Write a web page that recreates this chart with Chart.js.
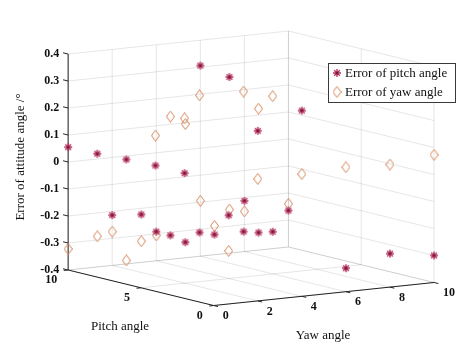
<!DOCTYPE html>
<html lang="en">
<head>
<meta charset="UTF-8">
<title>Error of attitude angle</title>
<script src="https://cdn.jsdelivr.net/npm/chart.js"></script>
<style>
  body { margin: 0; background: #ffffff; }
  #chart { display: block; }
</style>
</head>
<body>
<canvas id="chart" width="474" height="349"></canvas>
<script>
// test points: pitch angle and yaw angle of each test
const pitchAngle = [10, 8, 10, 6, 8, 4, 10, 6, 2, 8, 4, 10, 6, 2, 8, 4, 10, 0, 6, 2, 10, 0, 0, 0, 0];
const yawAngle   = [0, 0, 2, 0, 2, 0, 4, 2, 0, 4, 2, 6, 4, 2, 6, 4, 8, 2, 6, 4, 10, 4, 6, 8, 10];

// measured errors (deg)
const pitchError = [0.055, 0.057, -0.214, 0.062, -0.185, 0.066, -0.292, -0.236, 0.064, -0.305, -0.199, 0.306, -0.250,
                    -0.109, 0.290, -0.213, -0.212, 0.230, -0.260, -0.187, -0.265, 0.288, -0.313, -0.276, -0.300];
const yawError   = [-0.322, -0.249, -0.275, -0.312, -0.284, 0.177, -0.306, 0.204, 0.267, 0.133, 0.309, -0.195, -0.218,
                    -0.241, -0.201, 0.306, -0.251, 0.052, 0.199, 0.315, -0.240, 0.053, 0.061, 0.054, 0.073];

// axis ticks
const pitchTicks = [0, 5, 10];
const yawTicks = [0, 2, 4, 6, 8, 10];
const errorTicks = [-0.4, -0.3, -0.2, -0.1, 0, 0.1, 0.2, 0.3, 0.4];
const errorTickLabels = ['-0.4', '-0.3', '-0.2', '-0.1', '0', '0.1', '0.2', '0.3', '0.4'];
const seriesNames = ['Error of pitch angle', 'Error of yaw angle'];

const pitchMin = 0, pitchMax = 10, yawMin = 0, yawMax = 10, errorMin = -0.4, errorMax = 0.4;

// orthographic view of the box (same camera as the original figure)
const view = {
    originX: 213, originY: 311,   // pitch 0, yaw 0, error -0.4
    pitchStep: [-15, -3.7],
    yawStep: [22.7, -2.4],
    errorStep: -281.25
};

function project(p, w, e) {
    return {
        x: view.originX + p * view.pitchStep[0] + w * view.yawStep[0],
        y: view.originY + p * view.pitchStep[1] + w * view.yawStep[1] + (e - errorMin) * view.errorStep
    };
}

const gridColor = 'rgba(0, 0, 0, 0.1)';
const axisColor = '#262626';
const starColor = '#b8365f';
const diamondColor = '#d4875a';
const serif = "'Liberation Serif', 'Times New Roman', serif";

// marker images
function makeStar(size, color) {
    const c = document.createElement('canvas');
    c.width = size; c.height = size;
    const g = c.getContext('2d');
    const m = size / 2, r = size / 2 - 1;
    g.strokeStyle = color;
    g.lineWidth = 1.4;
    g.beginPath();
    for (let k = 0; k < 4; k++) {
        const a = k * Math.PI / 4;
        g.moveTo(m - r * Math.cos(a), m - r * Math.sin(a));
        g.lineTo(m + r * Math.cos(a), m + r * Math.sin(a));
    }
    g.stroke();
    g.fillStyle = '#6e1d3a';
    g.beginPath();
    g.arc(m, m, 1.3, 0, Math.PI * 2);
    g.fill();
    return c;
}

function makeDiamond(w, h, color) {
    const c = document.createElement('canvas');
    c.width = w; c.height = h;
    const g = c.getContext('2d');
    g.strokeStyle = color;
    g.lineWidth = 1;
    g.beginPath();
    g.moveTo(w / 2, 0.5);
    g.lineTo(w - 0.5, h / 2);
    g.lineTo(w / 2, h - 0.5);
    g.lineTo(0.5, h / 2);
    g.closePath();
    g.stroke();
    return c;
}

const starImg = makeStar(10, starColor);
const diamondImg = makeDiamond(9, 12, diamondColor);

function segment(a, b, color) {
    return {
        data: [project(a[0], a[1], a[2]), project(b[0], b[1], b[2])],
        showLine: true,
        pointRadius: 0,
        borderColor: color,
        borderWidth: 1,
        fill: false
    };
}

const lines = [];
// back wall at pitch = 10
yawTicks.forEach(w => lines.push(segment([pitchMax, w, errorMin], [pitchMax, w, errorMax], gridColor)));
errorTicks.forEach(e => lines.push(segment([pitchMax, yawMin, e], [pitchMax, yawMax, e], gridColor)));
// back wall at yaw = 10
pitchTicks.forEach(p => lines.push(segment([p, yawMax, errorMin], [p, yawMax, errorMax], gridColor)));
errorTicks.forEach(e => lines.push(segment([pitchMin, yawMax, e], [pitchMax, yawMax, e], gridColor)));
// floor
pitchTicks.forEach(p => lines.push(segment([p, yawMin, errorMin], [p, yawMax, errorMin], gridColor)));
yawTicks.forEach(w => lines.push(segment([pitchMin, w, errorMin], [pitchMax, w, errorMin], gridColor)));
// axes
lines.push(segment([pitchMax, yawMin, errorMin], [pitchMax, yawMin, errorMax], axisColor));
lines.push(segment([pitchMax, yawMin, errorMin], [pitchMin, yawMin, errorMin], axisColor));
lines.push(segment([pitchMin, yawMin, errorMin], [pitchMin, yawMax, errorMin], axisColor));
// tick marks
errorTicks.forEach(e => lines.push(segment([pitchMax, yawMin, e], [pitchMax + 0.35, yawMin, e], axisColor)));
pitchTicks.forEach(p => lines.push(segment([p, yawMin, errorMin], [p, yawMin - 0.2, errorMin], axisColor)));
yawTicks.forEach(w => lines.push(segment([pitchMin, w, errorMin], [pitchMin - 0.3, w, errorMin], axisColor)));

const pitchPoints = pitchAngle.map((p, i) => project(p, yawAngle[i], pitchError[i]));
const yawPoints = pitchAngle.map((p, i) => project(p, yawAngle[i], yawError[i]));

const labelsPlugin = {
    id: 'labels3d',
    afterDraw(chart) {
        const ctx = chart.ctx;
        const sx = chart.scales.x, sy = chart.scales.y;
        const px = pt => ({ x: sx.getPixelForValue(pt.x), y: sy.getPixelForValue(pt.y) });
        ctx.save();
        ctx.fillStyle = '#111111';
        ctx.font = 'bold 12px ' + serif;
        ctx.textBaseline = 'middle';

        ctx.textAlign = 'right';
        errorTicks.forEach((e, i) => {
            const q = px(project(pitchMax, yawMin, e));
            ctx.fillText(errorTickLabels[i], q.x - 9, q.y);
        });
        pitchTicks.forEach(p => {
            const q = px(project(p, yawMin, errorMin));
            ctx.fillText(String(p), q.x - 11, q.y + 10);
        });
        ctx.textAlign = 'left';
        yawTicks.forEach(w => {
            const q = px(project(pitchMin, w, errorMin));
            ctx.fillText(String(w), q.x + 9, q.y + 10.5);
        });

        // axis titles
        ctx.font = '13px ' + serif;
        ctx.textAlign = 'center';
        ctx.fillText('Pitch angle', 120, 327);
        ctx.fillText('Yaw angle', 323, 336);
        ctx.save();
        ctx.translate(21, 157);
        ctx.rotate(-Math.PI / 2);
        ctx.fillText('Error of attitude angle /\u00B0', 0, 0);
        ctx.restore();

        // legend
        ctx.fillStyle = '#ffffff';
        ctx.fillRect(328, 63, 127, 39);
        ctx.strokeStyle = '#3a3a3a';
        ctx.lineWidth = 1;
        ctx.strokeRect(328.5, 63.5, 127, 39);
        ctx.drawImage(starImg, 337 - starImg.width / 2, 73 - starImg.height / 2);
        ctx.drawImage(diamondImg, 337 - diamondImg.width / 2, 92 - diamondImg.height / 2);
        ctx.fillStyle = '#111111';
        ctx.font = '13px ' + serif;
        ctx.textAlign = 'left';
        ctx.fillText(seriesNames[0], 345, 74);
        ctx.fillText(seriesNames[1], 345, 93);
        ctx.restore();
    }
};

new Chart(document.getElementById('chart'), {
    type: 'scatter',
    data: {
        datasets: [
            {
                label: seriesNames[0],
                data: pitchPoints,
                pointStyle: starImg,
                pointRadius: 5
            },
            {
                label: seriesNames[1],
                data: yawPoints,
                pointStyle: diamondImg,
                pointRadius: 6
            },
            ...lines
        ]
    },
    options: {
        responsive: false,
        animation: false,
        events: [],
        layout: { padding: 0 },
        plugins: {
            legend: { display: false },
            tooltip: { enabled: false }
        },
        scales: {
            x: { type: 'linear', min: 0, max: 474, display: false },
            y: { type: 'linear', min: 0, max: 349, reverse: true, display: false }
        }
    },
    plugins: [labelsPlugin]
});
</script>
</body>
</html>
